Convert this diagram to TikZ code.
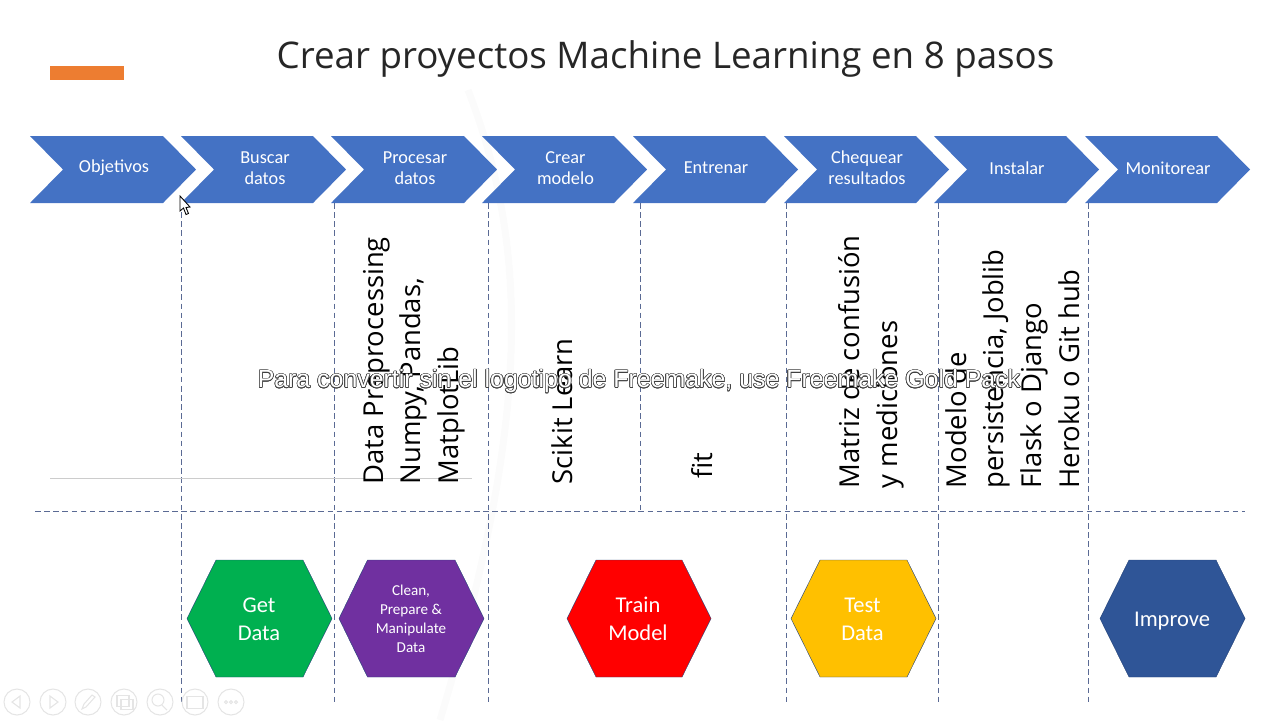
\documentclass[tikz,border=0pt]{standalone}
\usepackage{fontspec}
\usepackage[copies]{contour}
\setmainfont{Carlito}
\newfontfamily\slidefont{Open Sans}
\newfontfamily\markfont{Liberation Sans}
\contourlength{0.18pt}
\definecolor{stepblue}{HTML}{4472C4}
\definecolor{getgreen}{HTML}{00B050}
\definecolor{cleanpurple}{HTML}{7030A0}
\definecolor{trainred}{HTML}{FF0000}
\definecolor{testyellow}{HTML}{FFC000}
\definecolor{improveblue}{HTML}{2F5597}
\definecolor{titleorange}{HTML}{ED7D31}
\definecolor{laneblue}{HTML}{5A6A94}
\tikzset{
  steptext/.style = {text=white, align=center, inner sep=0pt, font=\fontsize{5.2pt}{6pt}\selectfont},
  hextext/.style = {text=white, align=center, inner sep=0pt, font=\fontsize{6.4pt}{8pt}\selectfont},
  hexsmall/.style = {text=white, align=center, inner sep=0pt, font=\fontsize{4.3pt}{5.4pt}\selectfont},
  sidetext/.style = {rotate=90, anchor=west, align=left, inner sep=0pt, font=\slidefont\fontsize{7.8pt}{10.7pt}\selectfont},
  lane/.style = {laneblue, dashed, line width=0.25pt, dash pattern=on 1.6pt off 1pt},
  hexline/.style = {draw=improveblue!80!black, line width=0.12pt},
  toolbtn/.style = {draw=black!10, line width=0.3pt}
}
\begin{document}
\begin{tikzpicture}[x=0.01cm, y=-0.01cm]
\useasboundingbox (0,0) rectangle (1280,720);

% faint streak behind the slide
\draw[black!1.5, line width=2pt] (468,90) .. controls (530,250) and (530,420) .. (440,720);

\fill[titleorange] (50,66) rectangle (124,80);
\node[inner sep=0pt, font=\slidefont\fontsize{10.44pt}{12pt}\selectfont, text=black!85] (title) at (665.5,59) {Crear proyectos Machine Learning en 8 pasos};

% top row
\fill[stepblue] (30,136) -- (163,136) -- (196,169.5) -- (163,203) -- (30,203) -- (63,169.5) -- cycle;
\fill[stepblue] (181,136) -- (313,136) -- (346,169.5) -- (313,203) -- (181,203) -- (214,169.5) -- cycle;
\fill[stepblue] (331,136) -- (464,136) -- (497,169.5) -- (464,203) -- (331,203) -- (364,169.5) -- cycle;
\fill[stepblue] (482,136) -- (614,136) -- (647,169.5) -- (614,203) -- (482,203) -- (515,169.5) -- cycle;
\fill[stepblue] (633,136) -- (765,136) -- (798,169.5) -- (765,203) -- (633,203) -- (666,169.5) -- cycle;
\fill[stepblue] (784,136) -- (916,136) -- (949,169.5) -- (916,203) -- (784,203) -- (817,169.5) -- cycle;
\fill[stepblue] (934,136) -- (1066,136) -- (1099,169.5) -- (1066,203) -- (934,203) -- (967,169.5) -- cycle;
\fill[stepblue] (1085,136) -- (1217,136) -- (1250,169.5) -- (1217,203) -- (1085,203) -- (1118,169.5) -- cycle;

\node[steptext] (objetivos) at (114,168) {Objetivos};
\node[steptext] (buscar) at (265,168) {Buscar\\datos};
\node[steptext] (procesar) at (415,168) {Procesar\\datos};
\node[steptext] (crear) at (565.5,168) {Crear\\modelo};
\node[steptext] (entrenar) at (716,168) {Entrenar};
\node[steptext] (chequear) at (867,168) {Chequear\\resultados};
\node[steptext] (instalar) at (1017,168) {Instalar};
\node[steptext] (monitorear) at (1168,168) {Monitorear};

% lanes
\draw[lane] (181,203) -- (181,702);
\draw[lane] (334,203) -- (334,702);
\draw[lane] (488,203) -- (488,702);
\draw[lane] (640,203) -- (640,511);
\draw[lane] (786,203) -- (786,702);
\draw[lane] (938,203) -- (938,702);
\draw[lane] (1088,203) -- (1088,702);
\draw[lane] (35,511) -- (1245,511);
\draw[black!20, line width=0.2pt] (50,478) -- (472,478);

% rotated notes
\node[sidetext] (preproceso) at (414,485) {Data Preprocessing\\Numpy, Pandas,\\MatplotLib};
\node[sidetext] (scikit) at (562,485) {Scikit Learn};
\node[sidetext] (fit) at (702,479) {fit};
\node[sidetext] (matriz) at (871.5,489) {Matriz de confusión\\y mediciones};
\node[sidetext] (persistencia) at (1012.5,489) {Modelo de\\persistencia, Joblib\\Flask o Django\\Heroku o Git hub};

% bottom row
\draw[hexline, fill=getgreen] (187,618.5) -- (216,560) -- (303,560) -- (332,618.5) -- (303,677) -- (216,677) -- cycle;
\draw[hexline, fill=cleanpurple] (339,618.5) -- (367.5,560) -- (455,560) -- (484,618.5) -- (455,677) -- (367.5,677) -- cycle;
\draw[hexline, fill=trainred] (567,618.5) -- (596,560) -- (682,560) -- (711,618.5) -- (682,677) -- (596,677) -- cycle;
\draw[hexline, fill=testyellow] (791,618.5) -- (820,560) -- (907,560) -- (936,618.5) -- (907,677) -- (820,677) -- cycle;
\draw[hexline, fill=improveblue] (1100,618.5) -- (1129,560) -- (1216,560) -- (1245,618.5) -- (1216,677) -- (1129,677) -- cycle;

\node[hextext] (getdata) at (259,619) {Get\\Data};
\node[hexsmall] (clean) at (411,619) {Clean,\\Prepare \&\\Manipulate\\Data};
\node[hextext] (train) at (638,619) {Train\\Model};
\node[hextext] (test) at (862.5,619) {Test\\Data};
\node[hextext] (improve) at (1172,621) {Improve};

% converter watermark
\node[inner sep=0pt, font=\markfont\fontsize{7.08pt}{8pt}\selectfont] (marca) at (639,381.5) {\contour{black!75}{\textcolor{white}{Para convertir sin el logotipo de Freemake, use Freemake Gold Pack}}};

% pointer
\draw[fill=white, line width=0.25pt] (180,196) -- (180,211) -- (183.5,208) -- (186,214.5) -- (188.5,213.5) -- (186,207.5) -- (190,207) -- cycle;

% player buttons
\draw[toolbtn] (17,702) circle (13);
\draw[toolbtn] (53,702) circle (13);
\draw[toolbtn] (88,702) circle (13);
\draw[toolbtn] (124,702) circle (13);
\draw[toolbtn] (160,702) circle (13);
\draw[toolbtn] (195,702) circle (13);
\draw[toolbtn] (231,702) circle (13);
\draw[toolbtn] (20,696) -- (12,702) -- (20,708) -- cycle;
\draw[toolbtn] (50,696) -- (58,702) -- (50,708) -- cycle;
\draw[toolbtn] (82,709) -- (84,704) -- (92,695) -- (95,697) -- (86,707) -- cycle;
\draw[toolbtn] (117,695) rectangle (129,706);
\draw[toolbtn] (121,699) rectangle (133,709);
\draw[toolbtn] (158,700) circle (6);
\draw[toolbtn] (162,705) -- (167,710);
\draw[toolbtn] (187,696) rectangle (203,708);
\draw[toolbtn] (226,702) circle (1.5);
\draw[toolbtn] (231,702) circle (1.5);
\draw[toolbtn] (236,702) circle (1.5);
\end{tikzpicture}
\end{document}
